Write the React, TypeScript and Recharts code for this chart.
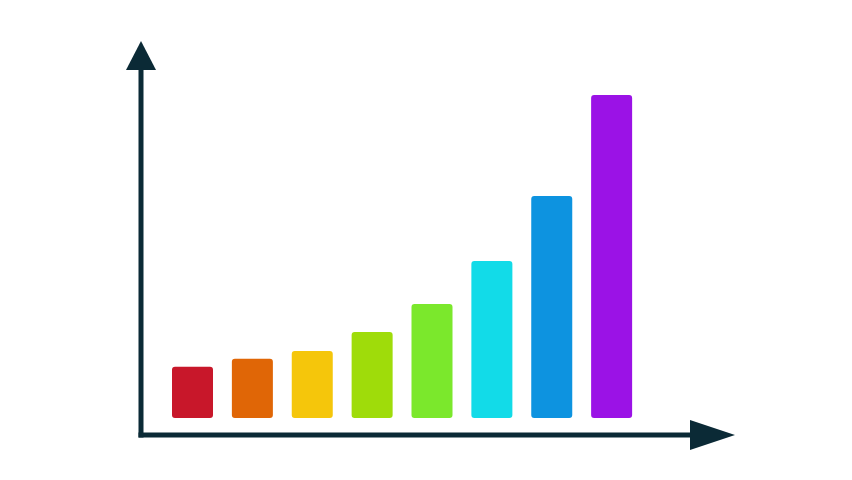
import { BarChart, Bar, XAxis, YAxis, Cell } from "recharts";

const categories = ["A", "B", "C", "D", "E", "F", "G", "H"];
const values = [15.8, 18.3, 20.7, 26.6, 35.3, 48.6, 68.7, 100];
const colors = ["#c8172a", "#e06606", "#f5c60b", "#9fdc0a", "#7be82c", "#12dbe8", "#0d93e0", "#9b12e6"];

const AXIS = "#0b2a36";

const data = categories.map((name, i) => ({ name, value: values[i] }));

export default function App() {
  return (
    <div style={{ position: "absolute", left: 0, top: 0, background: "#fff" }}>
      <BarChart width={852} height={480} data={data} margin={{ top: 62, right: 152, bottom: 0, left: 100 }}>
        <defs>
          <marker id="arrowX" markerUnits="userSpaceOnUse" markerWidth={45} markerHeight={30} refX={10} refY={15} orient="0">
            <path d="M0,0 L45,15 L0,30 z" fill={AXIS} />
          </marker>
          <marker id="arrowY" markerUnits="userSpaceOnUse" markerWidth={29} markerHeight={30} refX={8} refY={15} orient="270">
            <path d="M0,0 L29,15 L0,30 z" fill={AXIS} />
          </marker>
        </defs>
        <XAxis
          dataKey="name"
          height={45}
          tick={false}
          tickLine={false}
          padding={{ left: 22, right: 58 }}
          axisLine={{ stroke: AXIS, strokeWidth: 5, strokeLinecap: "square", markerEnd: "url(#arrowX)" }}
        />
        <YAxis
          width={41}
          domain={[-5.3, 110.2]}
          allowDataOverflow
          tick={false}
          tickLine={false}
          axisLine={{ stroke: AXIS, strokeWidth: 5, strokeLinecap: "square", markerStart: "url(#arrowY)" }}
        />
        <Bar dataKey="value" barSize={41} radius={3} isAnimationActive={false}>
          {data.map((d, i) => (
            <Cell key={d.name} fill={colors[i]} />
          ))}
        </Bar>
      </BarChart>
    </div>
  );
}
